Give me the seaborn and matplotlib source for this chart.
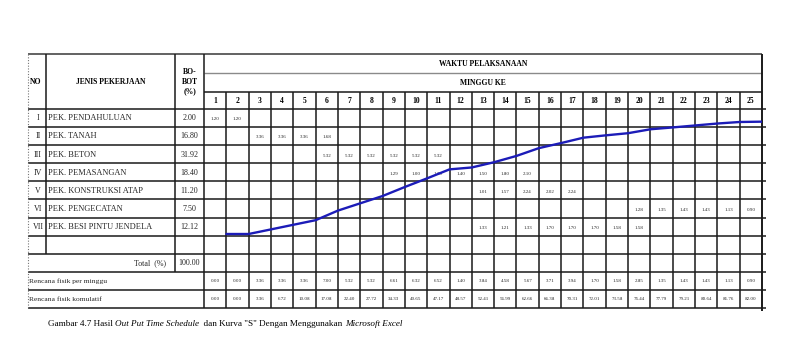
import matplotlib
matplotlib.use("Agg")
import matplotlib.pyplot as plt
import numpy as np
import pandas as pd
import seaborn as sns

no_romawi = ['I', 'II', 'III', 'IV', 'V', 'VI', 'VII']
jenis_pekerjaan = ['PEK. PENDAHULUAN', 'PEK. TANAH', 'PEK. BETON', 'PEK. PEMASANGAN',
                   'PEK. KONSTRUKSI ATAP', 'PEK. PENGECATAN', 'PEK. BESI PINTU JENDELA']
bobot = [2.00, 16.80, 31.92, 18.40, 11.20, 7.50, 12.12]
total_bobot = 100.00
minggu = list(range(1, 26))

# rencana per pekerjaan per minggu (minggu: nilai)
pek_pendahuluan = {1: 1.20, 2: 1.20}
pek_tanah = {3: 3.36, 4: 3.36, 5: 3.36, 6: 1.68}
pek_beton = {6: 5.32, 7: 5.32, 8: 5.32, 9: 5.32, 10: 5.32, 11: 5.32}
pek_pemasangan = {9: 1.29, 10: 1.00, 11: 1.20, 12: 1.40, 13: 1.50, 14: 1.80, 15: 2.10}
pek_atap = {13: 1.01, 14: 1.57, 15: 2.24, 16: 2.02, 17: 2.24}
pek_pengecatan = {20: 1.28, 21: 1.35, 22: 1.43, 23: 1.43, 24: 1.13, 25: 0.90}
pek_besi = {13: 1.33, 14: 1.21, 15: 1.33, 16: 1.70, 17: 1.70, 18: 1.70, 19: 1.58, 20: 1.58}
rencana_rows = [pek_pendahuluan, pek_tanah, pek_beton, pek_pemasangan,
                pek_atap, pek_pengecatan, pek_besi]

rencana_mingguan = [0.00, 0.00, 3.36, 3.36, 3.36, 7.00, 5.32, 5.32, 6.61, 6.32, 6.52, 1.40, 3.84,
                    4.58, 5.67, 3.71, 3.94, 1.70, 1.58, 2.85, 1.35, 1.43, 1.43, 1.13, 0.90]
rencana_kumulatif = [0.00, 0.00, 3.36, 6.72, 10.08, 17.08, 22.40, 27.72, 34.33, 40.65, 47.17,
                     48.57, 52.41, 56.99, 62.66, 66.38, 70.31, 72.01, 73.58, 76.44, 77.79,
                     79.21, 80.64, 81.76, 82.00]

W, H = 790, 354
sns.set_theme(style="white")
plt.rcParams['font.family'] = ['Liberation Serif', 'DejaVu Serif']

fig = plt.figure(figsize=(W / 100, H / 100), dpi=100)
ax = fig.add_axes([0, 0, 1, 1])
ax.set_xlim(0, W)
ax.set_ylim(H, 0)
ax.axis('off')

# table geometry (pixels)
x_left, x_no, x_jenis, x_bobot, x_right = 28, 46, 175, 204, 762
col_w = (x_right - x_bobot) / 25
y_top, y_waktu, y_minggu, y_head = 54, 72.7, 91.7, 109
row_h = (308 - y_head) / 11
row_y = [y_head + i * row_h for i in range(12)]
y_bottom = row_y[-1]
lc = '#1a1a1a'
lw = 1.1

def hline(y, x0, x1, color=lc, lw=lw):
    ax.plot([x0, x1], [y, y], color=color, lw=lw, solid_capstyle='butt')

def vline(x, y0, y1, color=lc, lw=lw):
    ax.plot([x, x], [y0, y1], color=color, lw=lw, solid_capstyle='butt')

# horizontal lines
hline(y_top, x_left, x_right, color='#555555', lw=1.3)
hline(y_waktu, x_bobot, x_right, color='#8a8a8a', lw=1.0)
hline(y_minggu, x_bobot, x_right)
for y in row_y:
    hline(y, x_left, x_right + 4)

# vertical lines
ax.plot([x_left, x_left], [y_top, y_bottom], color='#777777', lw=0.8, ls=(0, (1, 1.5)))
vline(x_no, y_top, row_y[8])
vline(x_jenis, y_top, row_y[9])
vline(x_bobot, y_top, y_bottom)
for k in range(1, 25):
    vline(x_bobot + k * col_w, y_minggu, y_bottom)
vline(x_right, y_top, y_bottom + 3, lw=1.4)

# header text
hb = dict(fontsize=5.5, fontweight='bold', color='black')
ax.text(x_left + 2, (y_top + y_head) / 2, 'NO', ha='left', va='center', **hb)
ax.text((x_no + x_jenis) / 2, (y_top + y_head) / 2, 'JENIS PEKERJAAN', ha='center', va='center', **hb)
ax.text((x_jenis + x_bobot) / 2, (y_top + y_head) / 2, 'BO-\nBOT\n(%)', ha='center', va='center',
        linespacing=1.2, **hb)
ax.text((x_bobot + x_right) / 2, (y_top + y_waktu) / 2 + 0.5, 'WAKTU PELAKSANAAN', ha='center', va='center', **hb)
ax.text((x_bobot + x_right) / 2, (y_waktu + y_minggu) / 2 + 0.5, 'MINGGU KE', ha='center', va='center', **hb)
for k in minggu:
    ax.text(x_bobot + (k - 0.5) * col_w, (y_minggu + y_head) / 2 + 0.5, str(k),
            ha='center', va='center', **hb)

# item rows
for i in range(7):
    yc = (row_y[i] + row_y[i + 1]) / 2 + 0.3
    ax.text((x_left + x_no) / 2 + 1, yc, no_romawi[i], ha='center', va='center', fontsize=5.8)
    ax.text(x_no + 2, yc, jenis_pekerjaan[i], ha='left', va='center', fontsize=6.0)
    ax.text((x_jenis + x_bobot) / 2, yc, f'{bobot[i]:.2f}', ha='center', va='center', fontsize=5.8)
    for k, v in rencana_rows[i].items():
        ax.text(x_bobot + (k - 0.5) * col_w, yc + 1, f'{v:.2f}', ha='center', va='center', fontsize=3.6)

# total row
yc = (row_y[8] + row_y[9]) / 2 + 0.3
ax.text(x_jenis - 9, yc, 'Total  (%)', ha='right', va='center', fontsize=5.8)
ax.text((x_jenis + x_bobot) / 2, yc, f'{total_bobot:.2f}', ha='center', va='center', fontsize=5.8)

# rencana rows
for j, (label, vals) in enumerate([('Rencana fisik per minggu', rencana_mingguan),
                                    ('Rencana fisik komulatif', rencana_kumulatif)]):
    yc = (row_y[9 + j] + row_y[10 + j]) / 2 + 0.3
    ax.text(x_left + 1, yc, label, ha='left', va='center', fontsize=5.4)
    for k, v in zip(minggu, vals):
        ax.text(x_bobot + (k - 0.5) * col_w, yc, f'{v:.2f}', ha='center', va='center', fontsize=3.6)

# kurva S over the week columns
y_curve_bot, y_curve_top = row_y[7], y_head
ax2 = fig.add_axes([x_bobot / W, (H - y_curve_bot) / H, (x_right - x_bobot) / W,
                    (y_curve_bot - y_curve_top) / H])
ax2.patch.set_alpha(0)
df = pd.DataFrame({'minggu': minggu, 'kumulatif': rencana_kumulatif})
sns.lineplot(data=df, x='minggu', y='kumulatif', ax=ax2, color='#1c1cb8', lw=1.7,
             solid_joinstyle='round', solid_capstyle='round')
px_per_pct = 1.37
ax2.set_xlim(0, 25)
ax2.set_ylim(-(y_curve_bot - 234) / px_per_pct, (234 - y_curve_top) / px_per_pct)
ax2.axis('off')

# caption
cap_fs = 6.6
t = ax.text(48, 326, 'Gambar 4.7 Hasil ', ha='left', va='baseline', fontsize=cap_fs, color='black')
for s, style in [('Out Put Time Schedule', 'italic'),
                 ('  dan Kurva "S" Dengan Menggunakan ', 'normal'),
                 ('Microsoft Excel', 'italic')]:
    t = ax.annotate(s, xy=(1, 0), xycoords=t, ha='left', va='bottom', fontsize=cap_fs,
                    fontstyle=style, color='black')

fig.savefig('out.png', dpi=100)
